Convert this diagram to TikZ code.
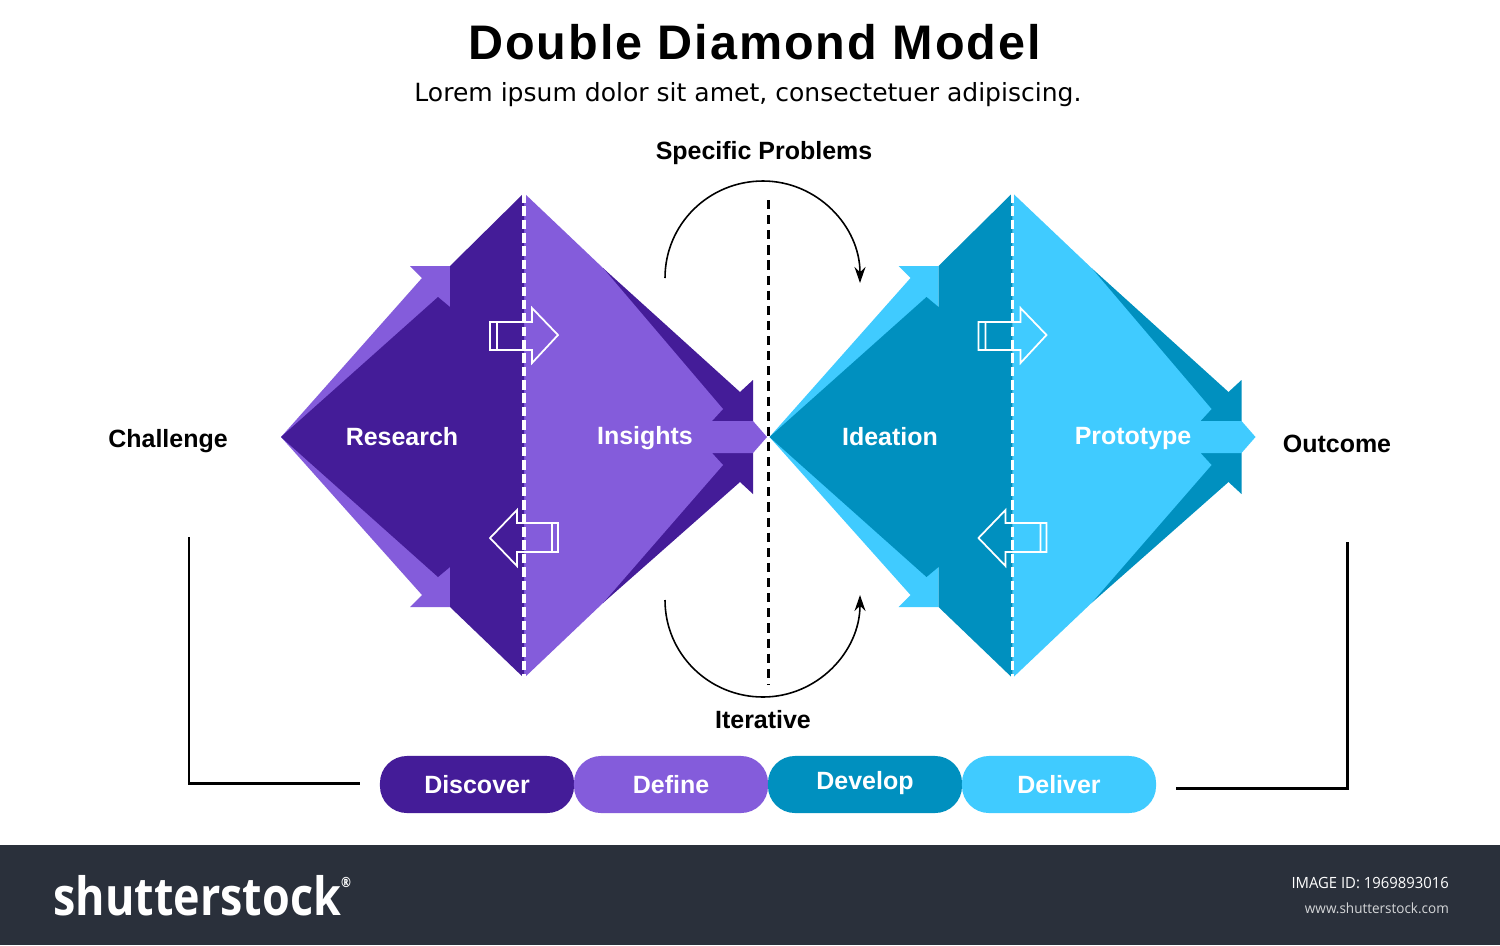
\documentclass[tikz,border=0pt]{standalone}
\usepackage{fontspec}
\setmainfont{Liberation Sans}
\newfontfamily\titlefont[LetterSpace=4]{Liberation Sans}
\newfontfamily\subfont{DejaVu Sans}
\newfontfamily\footfont[FakeStretch=0.96]{Open Sans}
\newfontfamily\logofont[FakeStretch=0.85]{Open Sans}
\usetikzlibrary{arrows.meta}
\definecolor{purpledark}{HTML}{441C98}
\definecolor{purplelight}{HTML}{845CDB}
\definecolor{bluedark}{HTML}{0090BF}
\definecolor{bluelight}{HTML}{40CBFF}
\definecolor{footbar}{HTML}{2A303B}
\tikzset{
    whitelabel/.style={text=white, font=\fontsize{7.1}{8}\selectfont\bfseries, inner sep=0pt},
    sidelabel/.style={text=black, font=\fontsize{7.1}{8}\selectfont\bfseries, inner sep=0pt},
    stagepill/.style={whitelabel, minimum width=19.4mm, minimum height=5.7mm, rounded corners=2.7mm},
    outline/.style={draw=white, line width=.5pt, line join=miter},
    bracket/.style={draw=black, line width=.85pt},
    turn/.style={draw=black, line width=.45pt, -{Stealth[length=1.6mm,width=1.1mm]}}
}

\begin{document}
\begin{tikzpicture}[x=0.01cm, y=-0.01cm]
	\useasboundingbox (0,0) rectangle (1500,945);
	\fill[white] (0,0) rectangle (1500,945);
	\fill[footbar] (0,845) rectangle (1500,945);

	% the two diamonds differ only in offset and colours
	\foreach \dx/\dark/\light in {0/purpledark/purplelight, 488.5/bluedark/bluelight} {
	\begin{scope}[xshift=\dx*0.01cm]
		\fill[\dark] (603,268) -- (740,392) -- (753,380) -- (753,494) -- (740,482) -- (603,603) -- cycle;
		\fill[\light] (524,193) -- (603,268) -- (723,409) -- (712,421) -- (753,421) -- (767,437) -- (753,453)
			-- (712,453) -- (723,465) -- (603,603) -- (524,678) -- cycle;
		\fill[\light] (281,437) -- (422,278) -- (410,266) -- (450,266) -- (450,607) -- (410,607)
			-- (422,595) -- cycle;
		\fill[\dark] (281,437) -- (438,297) -- (450,307) -- (450,266) -- (524,193) -- (524,678)
			-- (450,607) -- (450,567) -- (438,577) -- cycle;
		\draw[outline] (490,322) -- (532,322) -- (532,308) -- (558,335) -- (532,363) -- (532,350)
			-- (490,350) -- cycle (497,322) -- (497,350);
		\draw[outline] (558,523) -- (517,523) -- (517,510) -- (490,538) -- (517,566) -- (517,552)
			-- (558,552) -- cycle (552,523) -- (552,552);
		\draw[white, line width=.95pt, dash pattern=on 2.7pt off 1.1pt] (524,193) -- (524,678);
	\end{scope}
	}

	\coordinate (axistop) at (768,200);
	\coordinate (axisbot) at (768,684);
	\draw[black, line width=.85pt, dash pattern=on 2.6pt off 1.7pt] (axistop) -- (axisbot);

	\coordinate (upstart) at (665,278);
	\coordinate (upend) at (860,283);
	\coordinate (lowstart) at (665,600);
	\coordinate (lowend) at (860,595);
	\draw[turn] (upstart) .. controls (665,224) and (709,181) .. (763,181)
		.. controls (817,181) and (860,226) .. (upend);
	\draw[turn] (lowstart) .. controls (665,654) and (709,697) .. (763,697)
		.. controls (817,697) and (860,652) .. (lowend);

	\node (title) [font=\titlefont\fontsize{13.8}{15}\selectfont\bfseries, inner sep=0pt] at (754.5,42) {Double Diamond Model};
	\node (subtitle) [font=\subfont\fontsize{7.12}{9}\selectfont, inner sep=0pt] at (748,95) {Lorem ipsum dolor sit amet, consectetuer adipiscing.};
	\node (problems) [sidelabel] at (764,153) {Specific Problems};
	\node (iterative) [sidelabel] at (763,720) {Iterative};
	\node (challenge) [sidelabel] at (168,441) {Challenge};
	\node (outcome) [sidelabel] at (1337,444) {Outcome};

	\node (research) [whitelabel] at (402,437) {Research};
	\node (insights) [whitelabel] at (645,438) {Insights};
	\node (ideation) [whitelabel] at (890,437) {Ideation};
	\node (prototype) [whitelabel] at (1133,438) {Prototype};

	\node (discover) [stagepill, fill=purpledark] at (477,784.5) {Discover};
	\node (define) [stagepill, fill=purplelight] at (671,784.5) {Define};
	\node (develop) [stagepill, fill=bluedark] at (865,784.5) {\raisebox{2.5pt}{Develop}};
	\node (deliver) [stagepill, fill=bluelight] at (1059,784.5) {Deliver};

	\coordinate (leftup) at (189,537);
	\coordinate (leftcorner) at (189,783);
	\coordinate (leftend) at (360,783);
	\coordinate (rightup) at (1347,542);
	\coordinate (rightcorner) at (1347,788);
	\coordinate (rightend) at (1176,788);
	\draw[bracket] (leftup) -- (leftcorner) -- (leftend);
	\draw[bracket] (rightup) -- (rightcorner) -- (rightend);

	\node (logo) [anchor=west, text=white, inner sep=0pt, font=\logofont\fontsize{15}{16}\selectfont\bfseries] at (53,896) {shutterstock\raisebox{8pt}{\fontsize{4}{4}\selectfont ®}};
	\node (imageid) [anchor=east, text=white, inner sep=0pt, font=\footfont\fontsize{4.4}{5}\selectfont] at (1449.5,883) {IMAGE ID: 1969893016};
	\node (website) [anchor=east, text=white!80!footbar, inner sep=0pt, font=\footfont\fontsize{4}{5}\selectfont] at (1449.5,908) {www.shutterstock.com};
\end{tikzpicture}
\end{document}
